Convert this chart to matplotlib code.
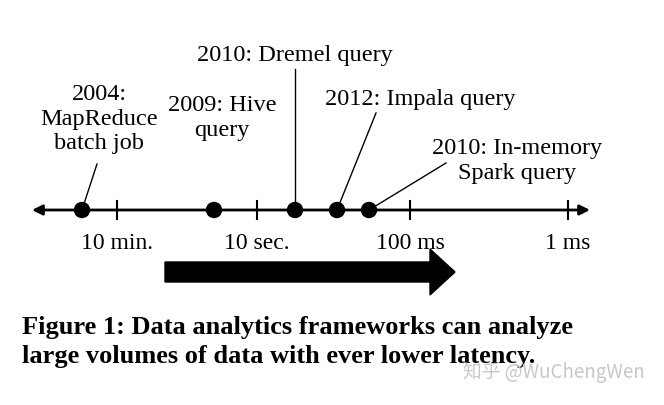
import matplotlib
matplotlib.use("Agg")
import matplotlib.pyplot as plt
from matplotlib.patches import FancyArrow, Circle

# data: scale ticks, events on the timeline
tick_x = [117, 257, 410, 568]
tick_labels = ["10 min.", "10 sec.", "100 ms", "1 ms"]
event_x = [82, 214, 295, 337, 369]
event_labels = ["2004:\nMapReduce\nbatch job", "2009: Hive\nquery", "2010: Dremel query",
                "2012: Impala query", "2010: In-memory\nSpark query"]
label_pos = [(99, 119), (222, 118), (295, 55), (420, 100), (517, 161)]
leader_end = [(97, 165), None, (295, 70), (376, 114), (446, 164)]

SERIF = "Liberation Serif"
fig = plt.figure(figsize=(6.64, 4.06), dpi=100)
ax = fig.add_axes([0, 0, 1, 1]); ax.set_xlim(0, 664); ax.set_ylim(406, 0); ax.axis("off")

Y = 211
ax.annotate("", xy=(32, Y), xytext=(590, Y), arrowprops=dict(arrowstyle="<|-|>,head_length=0.6,head_width=0.3", color="black", lw=2, shrinkA=0, shrinkB=0))
for x, l in zip(tick_x, tick_labels):
    ax.plot([x, x], [202, 220], color="black", lw=1.5)
    ax.text(x, 244, l, ha="center", va="center", fontsize=17, family=SERIF)
for x, l, (tx, ty), le in zip(event_x, event_labels, label_pos, leader_end):
    ax.add_patch(Circle((x, Y), 7.5, color="black", zorder=3))
    if le:
        ax.plot([x, le[0]], [Y, le[1]], color="black", lw=1)
    ax.text(tx, ty, l, ha="center", va="center", fontsize=17.5, family=SERIF, linespacing=1.2)

ax.add_patch(FancyArrow(165, 273, 265, 0, width=20, head_width=46, head_length=25,
                        length_includes_head=False, color="black"))

ax.text(22, 328, "Figure 1: Data analytics frameworks can analyze", fontsize=19, fontweight="bold",
        family=SERIF, va="center")
ax.text(22, 357, "large volumes of data with ever lower latency.", fontsize=19, fontweight="bold",
        family=SERIF, va="center")
ax.text(645, 373, "知乎 @WuChengWen", fontsize=13.5, color="#c8c8c8", ha="right", va="center",
        family=["Noto Sans CJK SC", "DejaVu Sans"])
fig.savefig("out.png", dpi=100, facecolor="white")
